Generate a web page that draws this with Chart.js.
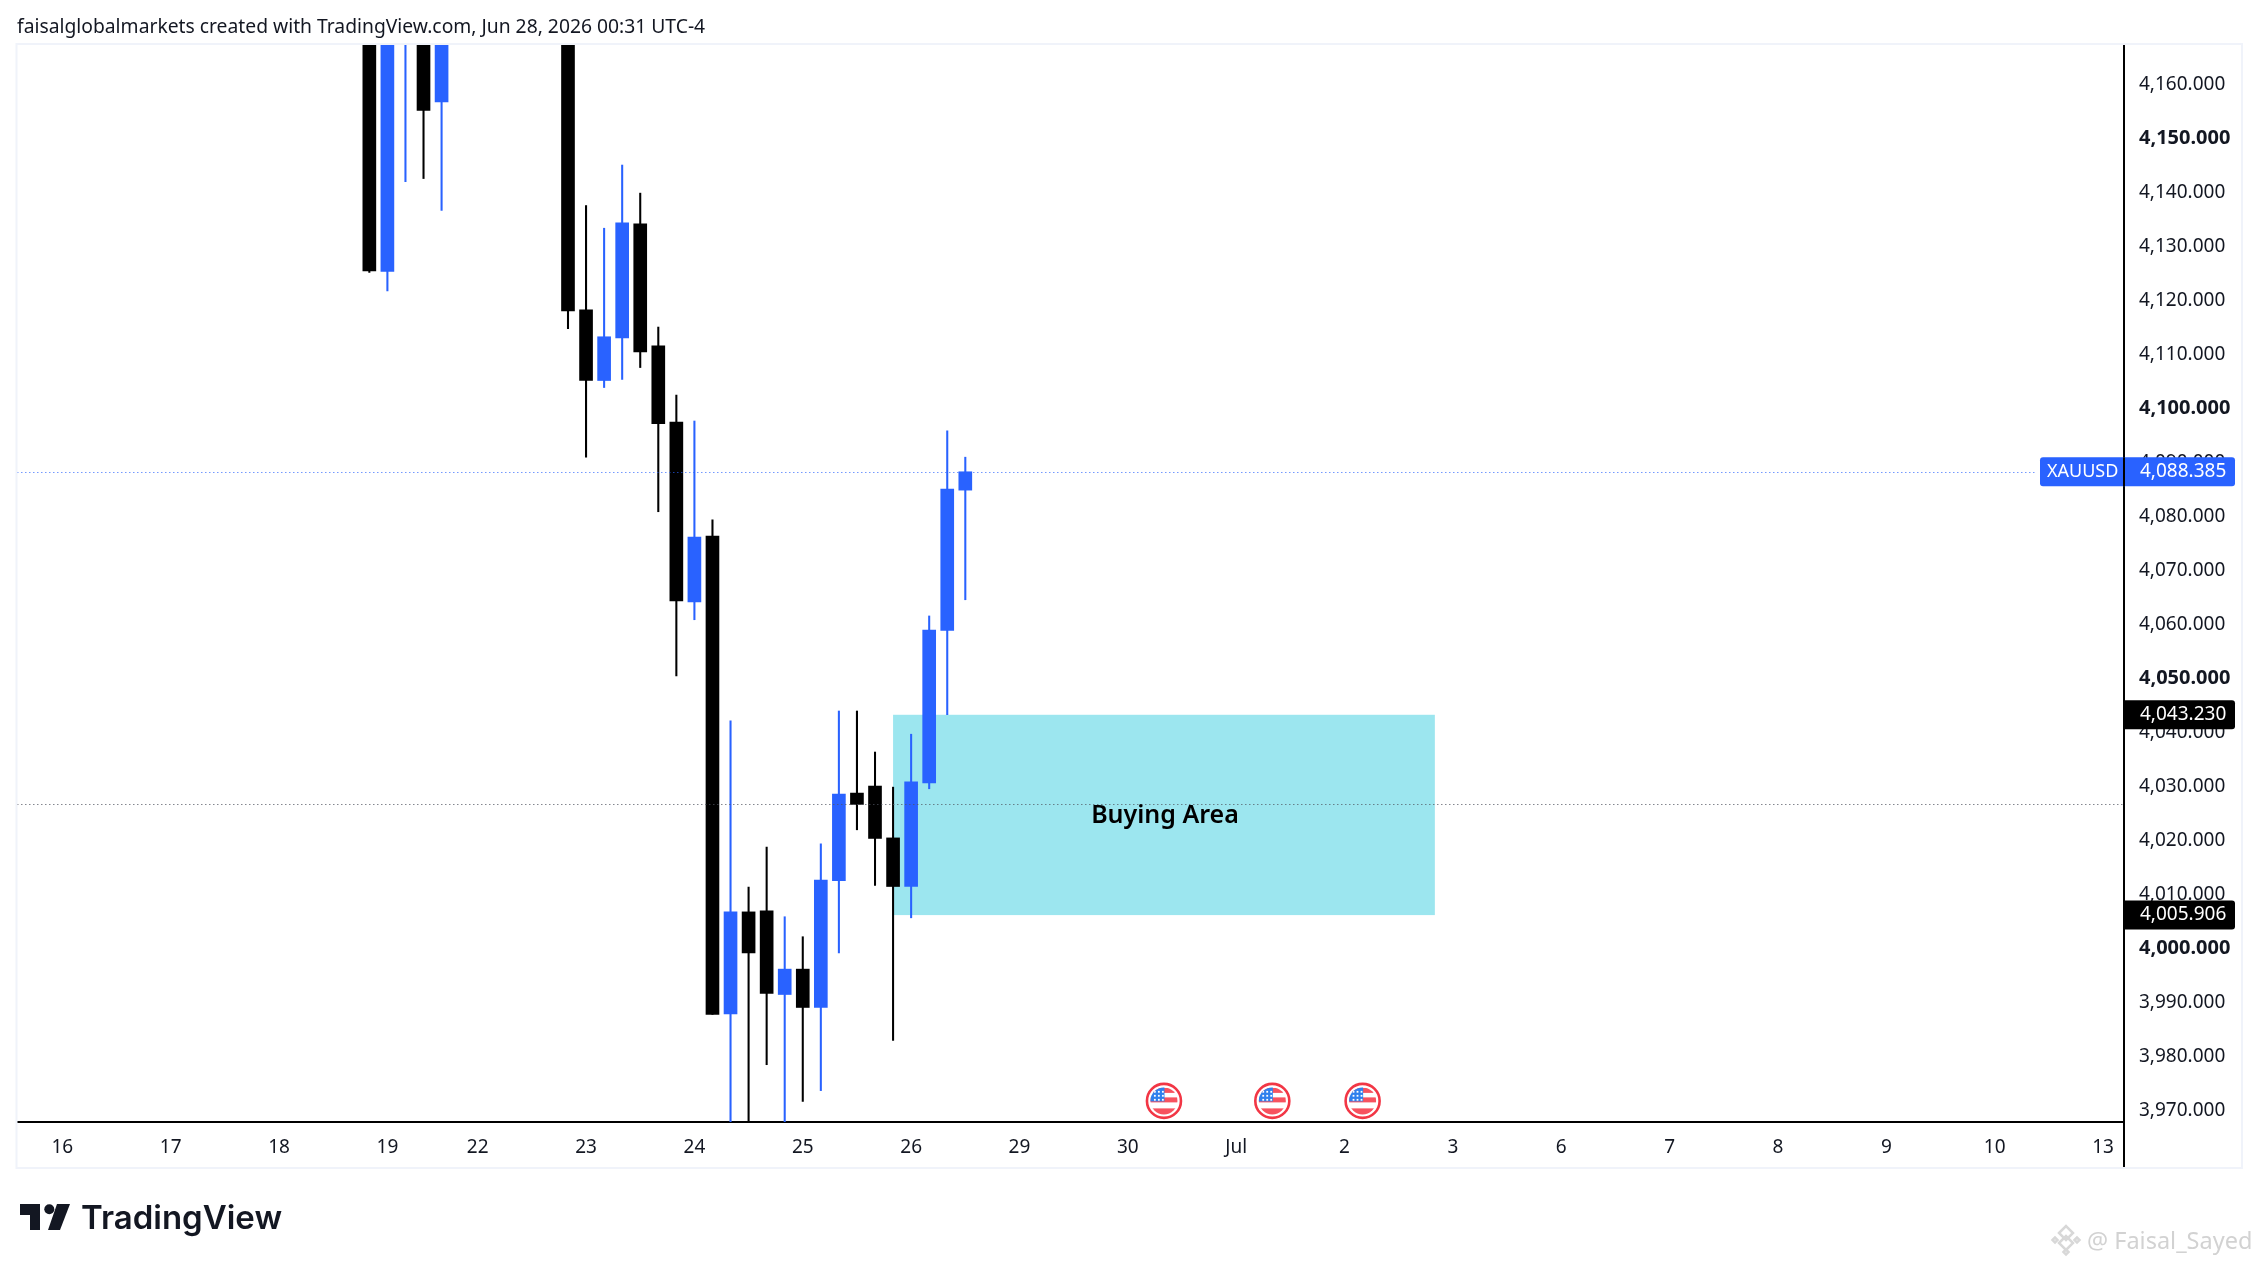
<!DOCTYPE html>
<html>
<head>
<meta charset="utf-8">
<title>XAUUSD</title>
<script src="https://cdn.jsdelivr.net/npm/chart.js@4/dist/chart.umd.min.js"></script>
<style>
	html, body { margin: 0; padding: 0; background: #fff; }
	canvas { display: block; }
</style>
</head>
<body>
<canvas id="price-chart" width="2259" height="1267"></canvas>
<script>
// 4H candles, null = above the visible range
const opens = [4175, 4125.1, 4170, 4175, 4156.5, null, null, null, null, null, null, 4175, 4118.0, 4104.9, 4112.8, 4133.9, 4111.3, 4097.2, 4063.9, 4076.1, 3987.6, 4006.5, 4006.7, 3991.2, 3995.9, 3988.8, 4012.3, 4028.5, 4029.8, 4020.2, 4011.2, 4030.4, 4058.6, 4084.6];
const highs = [4180, 4180, 4190, 4180, 4180, null, null, null, null, null, null, 4180, 4137.3, 4133.1, 4144.8, 4139.6, 4114.8, 4102.2, 4097.4, 4079.1, 4041.9, 4011.1, 4018.5, 4005.6, 4001.9, 4019.1, 4043.7, 4043.7, 4036.1, 4029.6, 4039.4, 4061.3, 4095.6, 4090.7];
const lows = [4124.9, 4121.5, 4141.7, 4142.3, 4136.4, null, null, null, null, null, null, 4114.5, 4090.7, 4103.6, 4105.1, 4107.3, 4080.6, 4050.2, 4060.6, 3987.5, 3960, 3960, 3978.2, 3960, 3971.4, 3973.4, 3998.9, 4021.7, 4011.4, 3982.7, 4005.4, 4029.3, 4043.0, 4064.3];
const closes = [4125.2, 4175, 4180, 4154.9, 4175, null, null, null, null, null, null, 4117.8, 4104.9, 4113.0, 4134.1, 4110.2, 4096.9, 4064.1, 4075.9, 3987.5, 4006.5, 3998.9, 3991.4, 3995.9, 3988.8, 4012.4, 4028.3, 4026.4, 4020.1, 4011.2, 4030.6, 4058.7, 4084.8, 4088.0];

const dayLabels = ['16', '17', '18', '19', '22', '23', '24', '25', '26', '29', '30', 'Jul', '2', '3', '6', '7', '8', '9', '10', '13'];
const daySlots = [-17, -11, -5, 1, 6, 12, 18, 24, 30, 36, 42, 48, 54, 60, 66, 72, 78, 84, 90, 96];
const priceTicks = [3970, 3980, 3990, 4000, 4010, 4020, 4030, 4040, 4050, 4060, 4070, 4080, 4090, 4100, 4110, 4120, 4130, 4140, 4150, 4160];
const boldTicks = [4000, 4050, 4100, 4150];

const zoneStart = 29;
const zoneEnd = 59;
const zoneTop = 4043.0;
const zoneBottom = 4005.906;
const lastPrice = 4088.0;
const sessionPrice = 4026.48;
const eventSlots = [44, 50, 55];
const eventPrice = 3971.5;

const BLUE = '#2962ff';
const INK = '#131722';
const FONT = '"Noto Sans", sans-serif';

const slots = opens.map( ( o, i ) => i ).filter( ( i ) => opens[ i ] !== null );
const candleColor = slots.map( ( i ) => ( closes[ i ] >= opens[ i ] ? BLUE : '#000000' ) );

function tag( ctx, x, y, w, h, color, left ) {
	ctx.fillStyle = color;
	ctx.beginPath();
	ctx.roundRect( x, y - h / 2, w, h, left ? 3 : [ 0, 3, 3, 0 ] );
	ctx.fill();
}

function drawFlag( ctx, x, y ) {
	ctx.save();
	ctx.beginPath();
	ctx.arc( x, y, 17, 0, Math.PI * 2 );
	ctx.fillStyle = '#ffffff';
	ctx.fill();
	ctx.lineWidth = 2.6;
	ctx.strokeStyle = '#f23645';
	ctx.stroke();
	ctx.beginPath();
	ctx.arc( x, y, 13.5, 0, Math.PI * 2 );
	ctx.clip();
	ctx.fillStyle = '#f7525f';
	ctx.fillRect( x - 14, y - 13, 28, 5 );
	ctx.fillRect( x - 14, y - 3.5, 28, 5 );
	ctx.fillRect( x - 14, y + 7.5, 28, 7 );
	ctx.fillStyle = '#2f80ed';
	ctx.fillRect( x - 14, y - 14, 14.5, 14.5 );
	ctx.fillStyle = '#ffffff';
	[ -10, -6, -2 ].forEach( ( dx ) => {
		[ -10, -6, -2 ].forEach( ( dy ) => {
			ctx.fillRect( x + dx, y + dy, 1.8, 1.8 );
		} );
	} );
	ctx.restore();
}

const underlay = {
	id: 'underlay',
	beforeDatasetsDraw( chart ) {
		const { ctx, scales: { x, y } } = chart;
		ctx.save();
		// buying zone
		ctx.fillStyle = '#9ce6ef';
		const top = y.getPixelForValue( zoneTop );
		const left = x.getPixelForValue( zoneStart );
		ctx.fillRect( left, top, x.getPixelForValue( zoneEnd ) - left, y.getPixelForValue( zoneBottom ) - top );
		ctx.restore();
	},
	afterDatasetsDraw( chart ) {
		const { ctx, chartArea: a, scales: { x, y } } = chart;
		ctx.save();
		ctx.lineWidth = 1;
		ctx.setLineDash( [ 1.5, 2.5 ] );
		ctx.strokeStyle = 'rgba(41,98,255,0.65)';
		let py = Math.round( y.getPixelForValue( lastPrice ) ) + 0.5;
		ctx.beginPath();
		ctx.moveTo( a.left, py );
		ctx.lineTo( 2036, py );
		ctx.stroke();
		ctx.strokeStyle = 'rgba(80,84,96,0.7)';
		py = Math.round( y.getPixelForValue( sessionPrice ) ) + 0.5;
		ctx.beginPath();
		ctx.moveTo( a.left, py );
		ctx.lineTo( a.right, py );
		ctx.stroke();
		ctx.restore();

		ctx.save();
		ctx.fillStyle = '#000000';
		ctx.font = '600 25px ' + FONT;
		ctx.textAlign = 'center';
		ctx.textBaseline = 'middle';
		ctx.fillText( 'Buying Area', 1165, 815.5 );
		ctx.restore();

		eventSlots.forEach( ( s ) => drawFlag( ctx, x.getPixelForValue( s ), y.getPixelForValue( eventPrice ) ) );
	},
};

const overlay = {
	id: 'overlay',
	afterDraw( chart ) {
		const { ctx, chartArea: a, scales: { y } } = chart;
		ctx.save();
		// frame round chart and axes
		ctx.strokeStyle = '#f0f3fa';
		ctx.lineWidth = 2;
		ctx.strokeRect( 16.5, 44, 2225.5, 1124 );
		// price axis runs on through the time axis
		ctx.fillStyle = '#000000';
		ctx.fillRect( a.right - 1, a.top, 2, 1167 - a.top );

		// price tags
		ctx.textBaseline = 'middle';
		ctx.font = '19px ' + FONT;
		ctx.textAlign = 'left';
		let py = y.getPixelForValue( lastPrice );
		tag( ctx, 2040, py, 195, 29, BLUE, true );
		ctx.fillStyle = '#000000';
		ctx.fillRect( a.right - 1, py - 14.5, 2, 29 );
		ctx.fillStyle = '#ffffff';
		ctx.fillText( '4,088.385', 2140, py );
		py = y.getPixelForValue( zoneTop );
		tag( ctx, a.right, py, 111, 29, '#000000', false );
		ctx.fillStyle = '#ffffff';
		ctx.fillText( '4,043.230', 2140, py );
		py = y.getPixelForValue( zoneBottom );
		tag( ctx, a.right, py, 111, 29, '#000000', false );
		ctx.fillStyle = '#ffffff';
		ctx.fillText( '4,005.906', 2140, py );
		ctx.font = '18px ' + FONT;
		ctx.fillText( 'XAUUSD', 2047, y.getPixelForValue( lastPrice ) );

		// header
		ctx.fillStyle = INK;
		ctx.font = '19.3px ' + FONT;
		ctx.fillText( 'faisalglobalmarkets created with TradingView.com, Jun 28, 2026 00:31 UTC-4', 17, 28 );

		// TradingView logo
		ctx.fillStyle = '#131722';
		ctx.beginPath();
		ctx.moveTo( 20, 1204 );
		ctx.lineTo( 40, 1204 );
		ctx.lineTo( 40, 1230 );
		ctx.lineTo( 30, 1230 );
		ctx.lineTo( 30, 1215 );
		ctx.lineTo( 20, 1215 );
		ctx.closePath();
		ctx.fill();
		ctx.beginPath();
		ctx.arc( 49.3, 1209.3, 5, 0, Math.PI * 2 );
		ctx.fill();
		ctx.beginPath();
		ctx.moveTo( 57, 1204 );
		ctx.lineTo( 70, 1204 );
		ctx.lineTo( 60, 1230 );
		ctx.lineTo( 48, 1230 );
		ctx.closePath();
		ctx.fill();
		ctx.font = '600 33px Inter, ' + FONT;
		ctx.fillText( 'TradingView', 81, 1219 );

		// watermark
		ctx.fillStyle = '#d2d2d2';
		ctx.font = '23.5px ' + FONT;
		ctx.fillText( '@ Faisal_Sayed', 2087, 1242 );
		ctx.strokeStyle = '#d8d8d8';
		ctx.lineWidth = 2.5;
		[ [ 2066, 1233, 7 ], [ 2066, 1243, 7 ], [ 2055, 1240, 2.5 ], [ 2077, 1240, 2.5 ], [ 2066, 1252, 2.5 ] ].forEach( ( d ) => {
			ctx.beginPath();
			ctx.moveTo( d[ 0 ] - d[ 2 ], d[ 1 ] );
			ctx.lineTo( d[ 0 ], d[ 1 ] - d[ 2 ] );
			ctx.lineTo( d[ 0 ] + d[ 2 ], d[ 1 ] );
			ctx.lineTo( d[ 0 ], d[ 1 ] + d[ 2 ] );
			ctx.closePath();
			ctx.stroke();
		} );
		ctx.restore();
	},
};

new Chart( document.getElementById( 'price-chart' ), {
	type: 'bar',
	data: {
		datasets: [
			{
				label: 'wicks',
				order: 2,
				grouped: false,
				barThickness: 1.4,
				backgroundColor: candleColor,
				data: slots.map( ( i ) => ( { x: i, y: [ lows[ i ], highs[ i ] ] } ) ),
			},
			{
				label: 'bodies',
				order: 1,
				grouped: false,
				barThickness: 13,
				backgroundColor: candleColor,
				data: slots.map( ( i ) => ( { x: i, y: [ opens[ i ], closes[ i ] ] } ) ),
			},
		],
	},
	plugins: [ underlay, overlay ],
	options: {
		responsive: false,
		devicePixelRatio: 1,
		animation: false,
		layout: { padding: { left: 17, right: 17, top: 45, bottom: 99 } },
		plugins: {
			legend: { display: false },
			tooltip: { enabled: false },
		},
		scales: {
			x: {
				type: 'linear',
				offset: false,
				min: -19.51,
				max: 97.16,
				grid: { display: false, drawTicks: false },
				border: { color: '#000000', width: 2 },
				afterBuildTicks: ( scale ) => {
					scale.ticks = daySlots.map( ( value ) => ( { value } ) );
				},
				afterFit: ( scale ) => {
					scale.height = 46;
				},
				ticks: {
					autoSkip: false,
					maxRotation: 0,
					padding: 14,
					color: INK,
					font: { family: FONT, size: 19 },
					callback: ( value ) => dayLabels[ daySlots.indexOf( value ) ],
				},
			},
			y: {
				position: 'right',
				min: 3967.59,
				max: 4167.03,
				grid: { display: false, drawTicks: false },
				border: { display: false },
				afterBuildTicks: ( scale ) => {
					scale.ticks = priceTicks.map( ( value ) => ( { value } ) );
				},
				afterFit: ( scale ) => {
					scale.width = 118;
				},
				ticks: {
					autoSkip: false,
					crossAlign: 'near',
					padding: 15,
					labelOffset: 1.4,
					color: INK,
					font: ( c ) => {
						const bold = c.tick && boldTicks.includes( c.tick.value );
						return {
							family: FONT,
							size: bold ? 20 : 19,
							weight: bold ? '700' : '400',
						};
					},
					callback: ( value ) => value.toLocaleString( 'en-US', { minimumFractionDigits: 3 } ),
				},
			},
		},
	},
} );
</script>
</body>
</html>
